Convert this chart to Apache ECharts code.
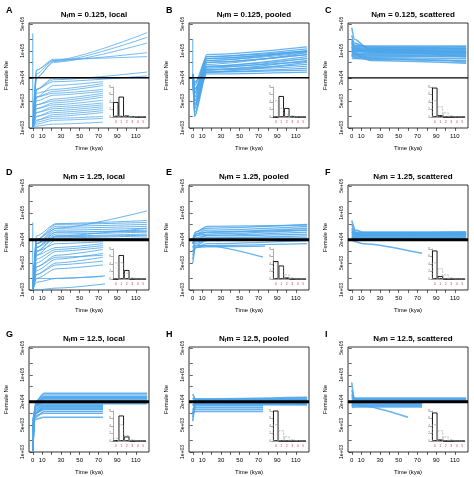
<!DOCTYPE html>
<html>
<head>
<meta charset="utf-8">
<script src="https://cdn.jsdelivr.net/npm/echarts@6/dist/echarts.min.js"></script>
<style>html,body{margin:0;background:#fff}#chart{width:474px;height:477px}</style>
</head>
<body>
<div id="chart"></div>
<script>
// log10(Ne) values
// each line: [start, value at knot1, value at knot2, end value, end time]
const letters = ['A', 'B', 'C', 'D', 'E', 'F', 'G', 'H', 'I']
const migration = ['0.125', '0.125', '0.125', '1.25', '1.25', '1.25', '12.5', '12.5', '12.5']
const scheme = ['local', 'pooled', 'scattered', 'local', 'pooled', 'scattered', 'local', 'pooled', 'scattered']
const knots = [[4, 22], [2, 15], [3, 20], [4, 25], [3, 15], [4, 12], [3, 12], [3, 10], [3, 10]]
const spikes = [5.45, 5.3, null, 4.75, null, null, null, null, null]
const refNe = 4.301
const refWidth = [1.5, 1.5, 1.2, 3, 3, 3, 3, 3, 3]
const lineWidth = [0.9, 1.2, 1.6, 1.0, 1.3, 1.6, 1.4, 1.6, 1.6]

const linesA = [
  [3.0, 4.4, 4.75, 5.47, 122], [3.0, 4.3, 4.72, 5.35, 122], [3.0, 4.3, 4.7, 5.2, 122],
  [3.0, 4.5, 4.75, 4.95, 122], [3.0, 4.5, 4.78, 4.85, 122], [3.0, 4.0, 4.25, 4.45, 122],
  [3.0, 4.0, 4.2, 4.35, 122], [3.0, 4.0, 4.3, 4.3, 122], [3.0, 3.9, 4.0, 4.15, 75],
  [3.0, 3.8, 3.95, 4.1, 75], [3.0, 3.8, 3.9, 4.0, 75], [3.0, 3.7, 3.85, 3.95, 75],
  [3.0, 3.6, 3.75, 3.9, 75], [3.0, 3.6, 3.7, 3.85, 75], [3.0, 3.5, 3.65, 3.8, 75],
  [3.0, 3.5, 3.6, 3.72, 75], [3.0, 3.4, 3.55, 3.65, 75], [3.0, 3.4, 3.5, 3.6, 75],
  [3.0, 3.3, 3.45, 3.55, 75], [3.0, 3.3, 3.4, 3.5, 75], [3.0, 3.2, 3.35, 3.45, 75],
  [3.0, 3.2, 3.3, 3.4, 75], [3.0, 3.15, 3.25, 3.3, 75], [3.0, 3.1, 3.2, 3.25, 75],
  [3.0, 3.05, 3.1, 3.15, 75], [3.0, 3.8, 4.1, 4.2, 75]
]
const linesB = [
  [4.4, 3.3, 4.7, 4.9, 122], [4.4, 3.5, 4.8, 5.0, 122], [4.4, 3.7, 4.85, 5.05, 122],
  [4.4, 3.9, 4.9, 5.1, 122], [4.4, 4.1, 4.75, 5.0, 122], [4.4, 3.6, 4.65, 4.95, 122],
  [4.4, 3.8, 4.6, 4.85, 122], [4.4, 4.0, 4.55, 4.8, 122], [4.4, 3.4, 4.5, 4.75, 122],
  [4.4, 3.7, 4.45, 4.7, 122], [4.4, 3.9, 4.5, 4.6, 122], [4.4, 4.2, 4.45, 4.55, 122],
  [4.4, 3.6, 4.4, 4.45, 122], [4.4, 3.8, 4.75, 4.95, 122], [4.4, 4.0, 4.7, 4.9, 122],
  [4.4, 3.5, 4.6, 4.8, 122], [4.4, 4.15, 4.85, 5.0, 122], [4.4, 3.3, 4.45, 4.5, 122],
  [4.4, 3.9, 4.8, 4.97, 122], [4.4, 3.6, 4.58, 4.72, 122], [4.4, 4.0, 4.52, 4.65, 122]
]
const linesC = [
  [5.6, 5.3, 5.0, 4.85, 122], [5.4, 5.2, 5.05, 4.95, 122], [5.3, 5.15, 5.1, 5.05, 122],
  [5.2, 5.1, 5.08, 5.1, 122], [5.1, 5.05, 5.05, 5.05, 122], [5.0, 5.0, 5.0, 5.0, 122],
  [4.95, 4.97, 4.97, 4.97, 122], [4.9, 4.92, 4.93, 4.95, 122], [4.85, 4.9, 4.9, 4.9, 122],
  [5.15, 5.05, 5.02, 5.02, 122], [5.25, 5.1, 4.98, 4.98, 122], [5.05, 5.0, 4.95, 4.92, 122],
  [4.95, 4.9, 4.88, 4.85, 122], [4.85, 4.85, 4.82, 4.8, 122], [4.8, 4.8, 4.78, 4.75, 122],
  [5.0, 4.9, 4.75, 4.68, 122], [5.1, 4.95, 4.8, 4.72, 122], [4.9, 4.82, 4.85, 4.88, 122],
  [5.2, 5.12, 5.12, 5.12, 122], [5.0, 4.98, 5.03, 5.07, 122], [5.05, 5.02, 4.99, 4.96, 122]
]
const linesD = [
  [3.0, 4.3, 4.7, 4.75, 122], [3.0, 4.4, 4.72, 4.8, 122], [3.0, 4.3, 4.65, 4.7, 122],
  [3.0, 4.2, 4.6, 4.65, 122], [3.0, 4.2, 4.55, 4.6, 122], [3.0, 4.1, 4.5, 4.55, 122],
  [3.0, 4.1, 4.45, 4.5, 122], [3.0, 4.0, 4.4, 4.45, 122], [3.0, 4.0, 4.35, 4.4, 122],
  [3.0, 3.9, 4.3, 4.35, 122], [3.0, 4.3, 4.6, 5.05, 122], [3.0, 4.2, 4.4, 4.6, 122],
  [3.0, 3.9, 4.1, 4.2, 75], [3.0, 3.8, 4.05, 4.15, 75], [3.0, 3.7, 4.0, 4.1, 75],
  [3.0, 3.6, 3.9, 4.05, 75], [3.0, 3.5, 3.8, 3.95, 75], [3.0, 3.4, 3.7, 3.85, 75],
  [3.0, 3.4, 3.65, 3.75, 75], [3.0, 3.3, 3.55, 3.65, 75], [3.0, 3.2, 3.3, 3.35, 75],
  [3.0, 3.0, 3.05, 3.3, 122], [3.0, 3.3, 3.3, 3.45, 122], [3.0, 4.1, 4.38, 4.42, 122],
  [3.0, 4.0, 4.2, 4.25, 75], [3.0, 3.6, 3.85, 3.9, 75], [3.0, 4.2, 4.5, 4.52, 122]
]
const linesE = [
  [4.3, 4.5, 4.6, 4.7, 122], [4.3, 4.45, 4.55, 4.65, 122], [4.3, 4.45, 4.5, 4.6, 122],
  [4.3, 4.4, 4.45, 4.55, 122], [4.3, 4.35, 4.42, 4.5, 122], [4.2, 4.3, 4.4, 4.45, 122],
  [4.2, 4.3, 4.35, 4.4, 122], [4.2, 4.3, 4.35, 4.35, 122], [4.1, 4.25, 4.3, 4.32, 122],
  [4.0, 4.2, 4.3, 4.3, 122], [3.8, 4.15, 4.28, 4.3, 122], [3.7, 4.1, 4.2, 4.28, 122],
  [3.9, 4.1, 4.15, 4.2, 122], [4.0, 4.1, 4.12, 4.15, 122], [4.3, 4.5, 4.65, 4.68, 122],
  [4.2, 4.4, 4.5, 4.55, 122], [4.1, 4.15, 4.15, 3.85, 75]
]
const linesF = [
  [4.8, 4.55, 4.5, 4.5, 122], [4.7, 4.5, 4.48, 4.48, 122], [4.6, 4.48, 4.46, 4.46, 122],
  [4.55, 4.45, 4.44, 4.44, 122], [4.5, 4.43, 4.42, 4.42, 122], [4.45, 4.41, 4.4, 4.4, 122],
  [4.4, 4.38, 4.38, 4.38, 122], [4.38, 4.36, 4.36, 4.36, 122], [4.35, 4.34, 4.34, 4.34, 122],
  [4.33, 4.32, 4.32, 4.32, 122], [4.31, 4.31, 4.31, 4.31, 122], [4.5, 4.47, 4.47, 4.47, 122],
  [4.45, 4.44, 4.46, 4.5, 122], [4.4, 4.4, 4.42, 4.44, 122], [4.3, 4.25, 4.2, 3.95, 75]
]
const linesG = [
  [3.0, 4.3, 4.52, 4.52, 122], [3.0, 4.3, 4.48, 4.48, 122], [3.0, 4.25, 4.44, 4.44, 122],
  [3.0, 4.25, 4.42, 4.42, 122], [3.0, 4.2, 4.4, 4.4, 122], [3.0, 4.2, 4.38, 4.38, 122],
  [3.3, 4.2, 4.35, 4.35, 122], [3.5, 4.2, 4.33, 4.33, 122], [3.6, 4.2, 4.31, 4.31, 122],
  [3.7, 4.2, 4.3, 4.3, 122], [3.8, 4.15, 4.28, 4.28, 122], [3.8, 4.1, 4.25, 4.25, 122],
  [3.5, 4.0, 4.2, 4.2, 75], [3.4, 4.0, 4.15, 4.15, 75], [3.6, 4.0, 4.1, 4.1, 75],
  [3.5, 3.9, 4.05, 4.05, 75], [3.7, 3.95, 4.0, 4.0, 75], [3.5, 3.85, 3.9, 3.9, 75],
  [3.6, 4.0, 4.12, 4.12, 75], [3.6, 4.05, 4.18, 4.18, 75], [3.7, 4.1, 4.22, 4.22, 75]
]
const linesH = [
  [4.5, 4.38, 4.38, 4.42, 122], [4.4, 4.36, 4.36, 4.4, 122], [4.4, 4.34, 4.35, 4.37, 122],
  [4.35, 4.33, 4.33, 4.35, 122], [4.3, 4.32, 4.32, 4.33, 122], [4.3, 4.31, 4.31, 4.31, 122],
  [4.2, 4.3, 4.3, 4.3, 122], [4.0, 4.28, 4.28, 4.28, 122], [3.9, 4.27, 4.27, 4.27, 122],
  [3.8, 4.26, 4.26, 4.26, 122], [4.1, 4.2, 4.2, 4.2, 75], [4.0, 4.15, 4.15, 4.15, 75],
  [4.1, 4.1, 4.1, 4.1, 75], [4.0, 4.05, 4.05, 4.05, 75], [4.2, 4.25, 4.25, 4.25, 122],
  [4.3, 4.24, 4.23, 4.22, 122]
]
const linesI = [
  [4.6, 4.4, 4.4, 4.4, 122], [4.5, 4.38, 4.38, 4.38, 122], [4.45, 4.36, 4.36, 4.36, 122],
  [4.4, 4.35, 4.35, 4.35, 122], [4.35, 4.33, 4.33, 4.33, 122], [4.35, 4.32, 4.32, 4.32, 122],
  [4.3, 4.31, 4.31, 4.31, 122], [4.3, 4.3, 4.3, 4.3, 122], [4.25, 4.29, 4.29, 4.29, 122],
  [4.25, 4.27, 4.27, 4.27, 75], [4.2, 4.25, 4.25, 4.25, 75], [4.2, 4.22, 4.22, 4.22, 75],
  [4.2, 4.2, 4.2, 4.2, 75], [4.15, 4.17, 4.17, 4.17, 75], [4.8, 4.3, 4.2, 3.9, 60]
]
const allLines = [linesA, linesB, linesC, linesD, linesE, linesF, linesG, linesH, linesI]

// inset histograms: proportion per bin 0..5 (observed = black, expected = grey dashed)
const binLabels = ['0', '1', '2', '3', '4', '5']
const histObs = [
  [0.5, 0.68, 0.05, 0.02, 0, 0], [0, 0.7, 0.3, 0.02, 0, 0], [0.98, 0.06, 0, 0, 0, 0],
  [0, 0.8, 0.3, 0, 0, 0], [0.6, 0.45, 0.05, 0, 0, 0], [0.95, 0.1, 0, 0, 0, 0],
  [0.02, 0.85, 0.15, 0, 0, 0], [1.05, 0, 0, 0, 0, 0], [0.95, 0.05, 0, 0, 0, 0]
]
const histExp = [
  [0.06, 0.05, 0.04, 0.03, 0.02, 0.01], [0.55, 0.3, 0.1, 0.05, 0.01, 0], [0.55, 0.35, 0.15, 0.05, 0.01, 0],
  [0.55, 0.55, 0.2, 0.05, 0, 0], [0.55, 0.45, 0.15, 0.05, 0, 0], [0.55, 0.35, 0.15, 0.05, 0, 0],
  [0.1, 0.55, 0.2, 0.05, 0, 0], [0.55, 0.35, 0.15, 0.05, 0.02, 0], [0.55, 0.35, 0.15, 0.05, 0, 0]
]

const yTickVals = [3, 3.301, 3.699, 4, 4.301, 4.699, 5, 5.301, 5.699]
const yLabelVals = [3, 3.699, 4.301, 5, 5.699]
const yLabelText = { '3': '1e+03', '3.699': '5e+03', '4.301': '2e+04', '5': '1e+05', '5.699': '5e+05' }
const xLabelVals = [0, 10, 30, 50, 70, 90, 110]
const xTickVals = [0, 10, 20, 30, 40, 50, 60, 70, 80, 90, 100, 110]

const colLeft = [29, 189, 348]
const rowTop = [23, 185, 347]
const plotW = 120, plotH = 105
const blue = '#4ea6ea'
const font = 'Liberation Sans'

const chart = echarts.init(document.getElementById('chart'))

const grid = [], xAxis = [], yAxis = [], series = [], title = [], graphic = []
const gridIn = [], xIn = [], yIn = []

for (let i = 0; i < 9; i++) {
  const left = colLeft[i % 3], top = rowTop[Math.floor(i / 3)]
  grid.push({ left: left, top: top, width: plotW, height: plotH, show: true, borderColor: '#000', borderWidth: 0.8 })
  xAxis.push({
    gridIndex: i, type: 'value', min: -4, max: 124,
    name: 'Time (kya)', nameLocation: 'middle', nameGap: 17,
    nameTextStyle: { fontSize: 6, fontFamily: font, color: '#000' },
    axisLine: { show: false }, splitLine: { show: false },
    axisTick: { length: 3, customValues: xTickVals, lineStyle: { color: '#000', width: 0.6 } },
    axisLabel: { fontSize: 6, fontFamily: font, color: '#000', margin: 5, customValues: xLabelVals }
  })
  yAxis.push({
    gridIndex: i, type: 'value', min: 3, max: 5.72,
    name: 'Female Ne', nameLocation: 'middle', nameGap: 20,
    nameTextStyle: { fontSize: 6, fontFamily: font, color: '#000' },
    axisLine: { show: false }, splitLine: { show: false },
    axisTick: { length: 3, customValues: yTickVals, lineStyle: { color: '#000', width: 0.6 } },
    axisLabel: {
      fontSize: 5, fontFamily: font, color: '#000', rotate: 90, margin: 4,
      customValues: yLabelVals, formatter: v => yLabelText[String(v)] || ''
    }
  })
  title.push({
    text: '{n|N}{s|f}{n|m = ' + migration[i] + ', ' + scheme[i] + '}',
    left: left + plotW / 2, top: top - 18, textAlign: 'center',
    textStyle: { rich: {
      n: { fontSize: 8, fontWeight: 'bold', fontFamily: font, color: '#000' },
      s: { fontSize: 5, fontWeight: 'bold', fontFamily: font, color: '#000', padding: [4, 0, 0, 0] }
    } }
  })
  title.push({
    text: letters[i], left: left - 28, top: top - 22,
    textStyle: { fontSize: 9, fontWeight: 'bold', fontFamily: font, color: '#000' }
  })

  const [k1, k2] = knots[i]
  allLines[i].forEach(l => {
    series.push({
      type: 'line', xAxisIndex: i, yAxisIndex: i, symbol: 'none', silent: true,
      smooth: 0.25, smoothMonotone: 'x',
      lineStyle: { color: blue, width: lineWidth[i], opacity: 0.85 },
      data: [[0, l[0]], [k1, l[1]], [k2, l[2]], [l[4], l[3]]]
    })
  })
  if (spikes[i] !== null) {
    const base = allLines[i][0][0]
    series.push({
      type: 'line', xAxisIndex: i, yAxisIndex: i, symbol: 'none', silent: true,
      lineStyle: { color: blue, width: 0.9 },
      data: [[0, base], [0, spikes[i]]]
    })
  }
  series.push({
    type: 'line', xAxisIndex: i, yAxisIndex: i, symbol: 'none', silent: true, z: 5,
    lineStyle: { color: '#000', width: refWidth[i] },
    data: [[-4, refNe], [124, refNe]]
  })

  // inset histogram
  const ix = left + plotW - 44, iy = top + 60
  graphic.push({ type: 'rect', z: 10, shape: { x: ix, y: iy, width: 43, height: 42 }, style: { fill: '#fff' } })
  const g = 9 + i
  gridIn.push({ left: ix + 8, top: iy + 4, width: 33, height: 30, z: 11 })
  xIn.push({
    gridIndex: g, type: 'category', data: binLabels, z: 11,
    axisLine: { lineStyle: { color: '#555', width: 0.5 } },
    axisTick: { show: false },
    axisLabel: { fontSize: 3.5, color: '#c44', margin: 3, interval: 0 }
  })
  yIn.push({
    gridIndex: g, type: 'value', min: 0, max: 1, interval: 0.25, z: 11,
    axisLine: { show: true, lineStyle: { color: '#555', width: 0.5 } },
    axisTick: { show: true, length: 2, lineStyle: { width: 0.5 } },
    splitLine: { show: false },
    axisLabel: { fontSize: 3, color: '#666', margin: 2, formatter: v => Math.round(v * 8) }
  })
  series.push({
    type: 'bar', xAxisIndex: g, yAxisIndex: g, z: 12, silent: true, barCategoryGap: 0,
    itemStyle: { color: 'rgba(0,0,0,0)', borderColor: '#000', borderWidth: 0.9 },
    data: histObs[i]
  })
  series.push({
    type: 'bar', xAxisIndex: g, yAxisIndex: g, z: 12, silent: true, barGap: '-100%', barCategoryGap: 0,
    itemStyle: { color: 'rgba(0,0,0,0)', borderColor: '#999', borderWidth: 0.6, borderType: 'dashed' },
    data: histExp[i]
  })
}

chart.setOption({
  animation: false,
  backgroundColor: '#fff',
  title: title,
  grid: grid.concat(gridIn),
  xAxis: xAxis.concat(xIn),
  yAxis: yAxis.concat(yIn),
  graphic: graphic,
  series: series
})
</script>
</body>
</html>
